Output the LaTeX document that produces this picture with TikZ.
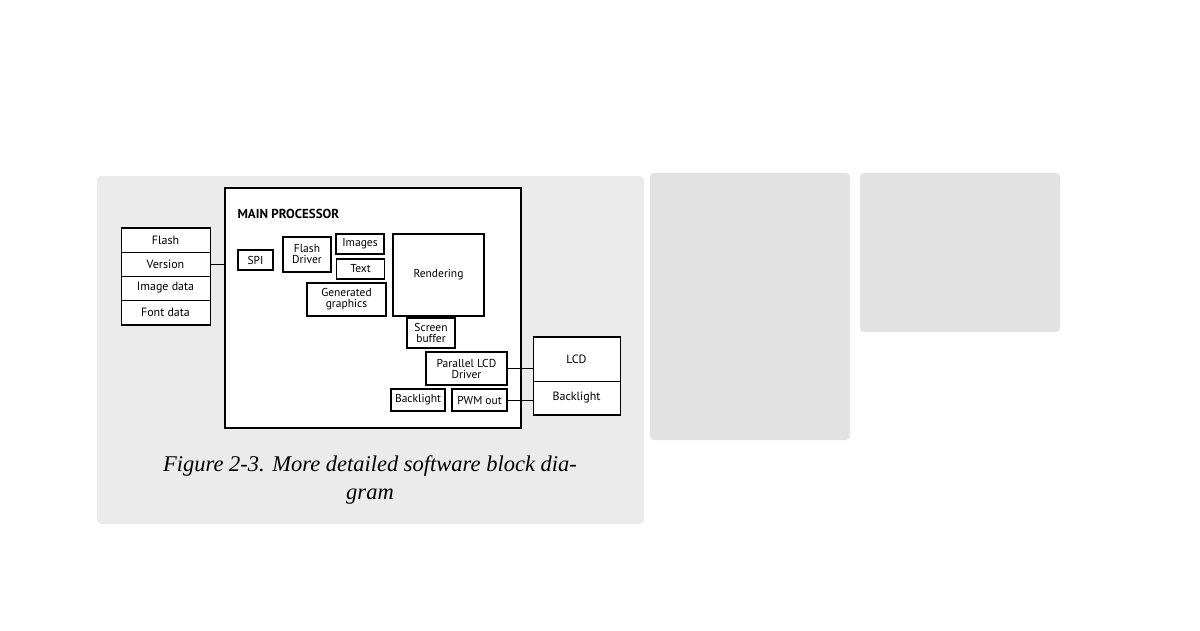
\documentclass[tikz,border=0pt]{standalone}
\usepackage{fontspec}
\setmainfont{Liberation Serif}
\newfontfamily\hand{PT Sans}
\begin{document}
\begin{tikzpicture}[x=1pt,y=-1pt,
  bx/.style={draw=black,line width=1.6pt,fill=white,inner sep=0pt,font=\hand\fontsize{11.5}{11}\selectfont,align=center},
  row/.style={draw=black,line width=1pt,fill=white,inner sep=0pt,font=\hand\fontsize{12}{12}\selectfont},
  ln/.style={line width=1pt}]
\useasboundingbox (0,0) rectangle (1200,630);
\fill[white] (0,0) rectangle (1200,630);
\fill[fill={rgb,255:red,235;green,235;blue,235},rounded corners=4pt] (97,176) rectangle (644,524);
\fill[fill={rgb,255:red,226;green,226;blue,226},rounded corners=4pt] (650,173) rectangle (850,440);
\fill[fill={rgb,255:red,226;green,226;blue,226},rounded corners=4pt] (860,173) rectangle (1060,332);
% main processor
\node[draw,line width=2.4pt,fill=white,minimum width=296pt,minimum height=240pt,inner sep=0pt] (mp) at (373,308) {};
\node[font=\hand\bfseries\fontsize{13}{13}\selectfont,anchor=west] (mpl) at (234,214) {MAIN PROCESSOR};
% left stack
\node[row,minimum width=89pt,minimum height=24pt] (fl) at (165.5,240) {Flash};
\node[row,minimum width=89pt,minimum height=24pt] (ve) at (165.5,264) {Version};
\node[row,minimum width=89pt,minimum height=24pt] (id) at (165.5,288) {Image data};
\node[row,minimum width=89pt,minimum height=24pt] (fd) at (165.5,312) {Font data};
\draw[line width=2pt] (fl.north west) -- (fl.north east);
\draw[line width=2pt] (fd.south west) -- (fd.south east);
\draw[ln] (ve.east) -- (ve.east -| mp.west);
% inner boxes
\node[bx,minimum width=35pt,minimum height=20pt] (spi) at (255.5,260) {SPI};
\node[bx,minimum width=48pt,minimum height=35pt] (fdr) at (307,254.5) {Flash\\Driver};
\node[bx,minimum width=48pt,minimum height=20pt] (img) at (360,244) {Images};
\node[bx,minimum width=48pt,minimum height=20pt] (txt) at (360.5,269) {Text};
\node[bx,minimum width=79pt,minimum height=33pt] (gen) at (346.5,299.5) {Generated\\graphics};
\node[bx,line width=2.2pt,minimum width=91pt,minimum height=82pt] (ren) at (438.5,275) {Rendering};
\node[bx,minimum width=48pt,minimum height=30pt] (sb) at (431,333) {Screen\\buffer};
\node[bx,minimum width=81pt,minimum height=33pt] (pl) at (466.5,368.5) {Parallel LCD\\Driver};
\node[bx,minimum width=54pt,minimum height=22pt] (bl) at (418,400) {Backlight};
\node[bx,minimum width=55pt,minimum height=22pt] (pwm) at (479.5,400) {PWM out};
% right stack
\node[row,minimum width=87pt,minimum height=44pt] (lcd) at (576.5,359) {LCD};
\node[row,minimum width=87pt,minimum height=33pt] (bk) at (576.5,397.5) {Backlight};
\draw[line width=2pt] (lcd.north west) -- (lcd.north east);
\draw[line width=2pt] (bk.south west) -- (bk.south east);
\draw[ln] (pl.east) -- (pl.east -| lcd.west);
\draw[ln] (pwm.east) -- (pwm.east -| bk.west);
% caption
\node[font=\itshape\fontsize{22.5}{28}\selectfont,align=center] (cap) at (370,480) {Figure 2-3. More detailed software block dia-\\gram};
\end{tikzpicture}
\end{document}
